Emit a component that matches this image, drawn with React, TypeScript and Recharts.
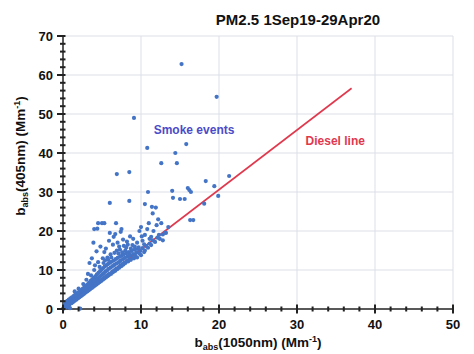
import { ScatterChart, Scatter, XAxis, YAxis, CartesianGrid, ReferenceLine, ReferenceDot } from 'recharts'

const FONT = "'Liberation Sans', Arial, sans-serif"
const DOT = '#4474C6'
const RED = '#E0394E'

const xTicks = [0, 2, 4, 6, 8, 10, 12, 14, 16, 18, 20, 22, 24, 26, 28, 30, 32, 34, 36, 38, 40, 42, 44, 46, 48, 50]
const yTicks = [0, 2, 4, 6, 8, 10, 12, 14, 16, 18, 20, 22, 24, 26, 28, 30, 32, 34, 36, 38, 40, 42, 44, 46, 48, 50, 52, 54, 56, 58, 60, 62, 64, 66, 68, 70]
const xGrid = [10, 20, 30, 40, 50]
const yGrid = [10, 20, 30, 40, 50, 60, 70]

// dense cluster hugging the diesel line
const bandPoints: [number, number][] = [
  [0.05, 0.1], [0.1, 0.4], [0.15, 0.9], [0.2, 0.2], [0.25, 1.3], [0.3, 0.6], [0.35, 1.8], [0.4, 0.5], [0.45, 1.1], [0.5, 0.8],
  [0.55, 2.1], [0.6, 1.2], [0.65, 0.7], [0.7, 1.6], [0.75, 2.4], [0.8, 1.1], [0.85, 1.9], [0.9, 0.2], [0.9, 1.4], [0.95, 2.7], [1.0, 1.6],
  [1.05, 2.2], [1.1, 1.5], [1.15, 3.0], [1.2, 1.9], [1.25, 2.5], [1.3, 1.8], [1.35, 3.3], [1.4, 2.2], [1.45, 2.8], [1.5, 2.1],
  [1.55, 3.6], [1.6, 2.5], [1.65, 3.1], [1.7, 2.4], [1.75, 3.9], [1.8, 2.8], [1.85, 3.4], [1.9, 2.7], [1.95, 4.2], [2.0, 3.1],
  [2.05, 3.7], [2.1, 3.0], [2.15, 4.5], [2.2, 0.1], [2.2, 3.4], [2.25, 4.0], [2.3, 3.3], [2.35, 4.9], [2.4, 3.7], [2.45, 4.3], [2.5, 3.6],
  [2.55, 5.2], [2.6, 4.0], [2.65, 4.6], [2.7, 3.9], [2.75, 5.6], [2.8, 4.3], [2.85, 5.0], [2.9, 4.2], [2.95, 6.0], [3.0, 4.6],
  [3.05, 5.3], [3.1, 4.5], [3.15, 6.3], [3.2, 4.9], [3.25, 5.7], [3.3, 4.8], [3.35, 6.8], [3.4, 5.2], [3.45, 6.1], [3.5, 5.1],
  [3.55, 7.2], [3.6, 5.5], [3.65, 6.4], [3.7, 5.4], [3.75, 7.6], [3.8, 5.8], [3.85, 6.8], [3.9, 5.7], [3.95, 8.0], [4.0, 6.1],
  [4.05, 7.1], [4.1, 6.0], [4.15, 8.4], [4.2, 6.4], [4.25, 7.5], [4.3, 6.3], [4.35, 8.9], [4.4, 6.7], [4.45, 7.8], [4.5, 6.6],
  [4.55, 9.3], [4.6, 7.0], [4.65, 8.2], [4.7, 6.9], [4.75, 9.7], [4.8, 7.3], [4.85, 8.5], [4.9, 7.2], [4.95, 10.1], [5.0, 7.6],
  [5.05, 8.9], [5.1, 7.5], [5.15, 10.5], [5.2, 7.9], [5.25, 9.2], [5.3, 7.8], [5.35, 10.9], [5.4, 8.2], [5.45, 9.6], [5.5, 8.1],
  [5.55, 11.2], [5.6, 8.5], [5.65, 9.9], [5.7, 8.4], [5.75, 11.5], [5.8, 8.8], [5.85, 10.3], [5.9, 8.7], [5.95, 11.8], [6.0, 9.1],
  [6.1, 10.6], [6.15, 9.0], [6.2, 12.1], [6.3, 9.5], [6.35, 11.0], [6.4, 9.4], [6.5, 12.4], [6.55, 9.9], [6.6, 11.3], [6.7, 9.8],
  [6.75, 12.8], [6.8, 10.3], [6.9, 11.7], [6.95, 10.2], [7.0, 13.1],
  [7.1, 10.7], [7.15, 12.0], [7.2, 10.6], [7.3, 13.4], [7.35, 11.1], [7.4, 12.4], [7.5, 11.0], [7.55, 13.7], [7.6, 11.5], [7.7, 12.8],
  [7.75, 11.4], [7.8, 14.0], [7.9, 11.9], [7.95, 13.1],
  [8.0, 11.8], [8.1, 14.3], [8.2, 12.3], [8.3, 13.5], [8.35, 12.2], [8.45, 14.6], [8.5, 12.7], [8.6, 13.8], [8.7, 12.6], [8.8, 14.9],
  [8.9, 13.1], [9.0, 14.1], [9.1, 13.0], [9.2, 15.2],
  [9.3, 13.6], [9.4, 14.5], [9.5, 13.2], [9.6, 15.4], [9.8, 14.2], [9.9, 14.9], [10.0, 13.8], [10.2, 15.6], [10.4, 14.6], [10.5, 15.0],
  [10.7, 16.1], [10.9, 15.7], [11.1, 16.8], [11.3, 16.4], [11.5, 17.6], [11.8, 17.2], [12.1, 18.3], [12.4, 18.0], [12.8, 19.1], [13.1, 19.6],
]

// looser points above the band
const fringePoints: [number, number][] = [
  [1.5, 4.5], [2.0, 5.2], [2.6, 6.4], [3.0, 7.5], [3.2, 9.0], [3.4, 11.8], [3.6, 8.6], [3.7, 13.0], [3.9, 17.0], [4.0, 10.0],
  [4.1, 11.2], [4.3, 14.8], [4.4, 20.6], [4.5, 12.0], [4.7, 10.8], [4.8, 16.0], [5.0, 22.0], [5.1, 13.0], [5.2, 11.8], [5.3, 14.6],
  [5.4, 12.5], [5.5, 15.5], [5.7, 13.2], [5.8, 12.6], [5.9, 17.5], [6.0, 19.5], [6.1, 14.0], [6.2, 13.2], [6.4, 16.5], [6.5, 18.5],
  [6.6, 14.4], [6.7, 19.2], [6.8, 22.0], [6.9, 15.0], [7.0, 17.0], [7.1, 14.2], [7.2, 16.0], [7.3, 15.2], [7.4, 19.8], [7.5, 20.5],
  [7.6, 14.5], [7.7, 17.8], [7.8, 16.2], [8.0, 15.0], [8.1, 15.8], [8.2, 17.3], [8.3, 16.5], [8.5, 14.0], [8.6, 18.6], [8.7, 15.5],
  [8.9, 16.4], [9.0, 18.0], [9.2, 16.0], [9.5, 17.0], [9.7, 15.8], [9.8, 20.0], [10.0, 21.0], [10.1, 18.6], [10.2, 17.5], [10.4, 16.6],
  [10.5, 19.0], [10.8, 20.5], [11.0, 22.0], [11.1, 18.0], [11.3, 18.5], [11.5, 24.5], [11.6, 20.0], [11.9, 26.0], [12.0, 21.5], [12.2, 23.0],
  [12.3, 19.0], [12.6, 22.0], [12.8, 17.6], [13.2, 19.5], [13.5, 21.0], [4.5, 22.0], [5.3, 22.0], [4.0, 20.5],
]

// smoke events far above the line
const smokePoints: [number, number][] = [
  [15.2, 62.8], [19.7, 54.4], [9.1, 49.0], [10.8, 41.3], [14.4, 40.0], [15.8, 42.3], [12.6, 37.4], [14.6, 37.4], [6.9, 34.6], [8.5, 35.1],
  [8.5, 27.7], [6.0, 27.2], [10.9, 30.0], [10.5, 26.9], [11.4, 26.2], [14.0, 30.3], [14.1, 28.5], [15.0, 28.2], [15.6, 28.2], [16.0, 31.0],
  [16.2, 30.5], [16.4, 30.0], [16.3, 22.8], [16.7, 22.8], [18.3, 32.8], [19.4, 31.5], [19.9, 29.0], [21.3, 34.1], [18.1, 27.0],
]

const dieselLine = [{ x: 0, y: 0 }, { x: 37, y: 56.6 }]

const toXY = (pts: [number, number][]) => pts.map(([x, y]) => ({ x, y }))

function XTick(props: any) {
  const x = Number(props.x)
  const y = Number(props.y)
  const v = props.payload.value
  const major = v % 10 === 0
  const h = major ? 4.5 : 2.5
  return (
    <g>
      <rect x={x - 1} y={y - h} width={2} height={h * 2} fill="#222" />
      {major && (
        <text x={x} y={y + 20} textAnchor="middle" fontFamily={FONT} fontWeight="bold" fontSize={13} fill="#111">
          {v}
        </text>
      )}
    </g>
  )
}

function YTick(props: any) {
  const x = Number(props.x)
  const y = Number(props.y)
  const v = props.payload.value
  const major = v % 10 === 0
  const w = major ? 6 : 3
  return (
    <g>
      <rect x={x - w} y={y - 1} width={w + 2.5} height={2} fill="#222" />
      {major && (
        <text x={x - 10} y={y + 5} textAnchor="end" fontFamily={FONT} fontWeight="bold" fontSize={13} fill="#111">
          {v}
        </text>
      )}
    </g>
  )
}

function XLabel({ viewBox }: any) {
  const cx = viewBox.x + viewBox.width / 2
  return (
    <text x={cx} y={viewBox.y + 38} textAnchor="middle" fontFamily={FONT} fontWeight="bold" fontSize={13.5} fill="#111">
      b<tspan fontSize={9} dy={3}>abs</tspan>
      <tspan dy={-3}>(1050nm) (Mm</tspan>
      <tspan fontSize={9} dy={-5}>-1</tspan>
      <tspan dy={5}>)</tspan>
    </text>
  )
}

function YLabel() {
  const cy = 156
  const x = 25
  return (
    <text x={x} y={cy} transform={`rotate(-90, ${x}, ${cy})`} textAnchor="middle" fontFamily={FONT} fontWeight="bold" fontSize={13.5} fill="#111">
      b<tspan fontSize={9} dy={3}>abs</tspan>
      <tspan dy={-3}>(405nm) (Mm</tspan>
      <tspan fontSize={9} dy={-5}>-1</tspan>
      <tspan dy={5}>)</tspan>
    </text>
  )
}

const dotShape = (p: any) => <circle cx={p.cx} cy={p.cy} r={2.1} fill={DOT} />

export default function App() {
  return (
    <div style={{ position: 'absolute', left: 0, top: 0, width: 474, height: 354, background: '#fff' }}>
      <div style={{
        position: 'absolute', left: 200, top: 11, width: 196, textAlign: 'center',
        fontFamily: FONT, fontWeight: 'bold', fontSize: 15, color: '#111',
      }}>
        PM2.5 1Sep19-29Apr20
      </div>
      <ScatterChart width={474} height={354} margin={{ top: 36, right: 21, bottom: 15, left: 23 }}>
        <CartesianGrid stroke="#dcdfe6" strokeWidth={1} verticalValues={xGrid} horizontalValues={yGrid} />
        <XAxis
          type="number" dataKey="x" domain={[0, 50]} ticks={xTicks} interval={0}
          height={30} tickSize={0} tickMargin={0} tick={XTick} tickLine={false}
          axisLine={{ stroke: '#222', strokeWidth: 1.5 }} label={<XLabel />}
        />
        <YAxis
          type="number" dataKey="y" domain={[0, 70]} ticks={yTicks} interval={0}
          width={40} tickSize={0} tickMargin={0} tick={YTick} tickLine={false}
          axisLine={{ stroke: '#222', strokeWidth: 1.5 }} label={<YLabel />}
        />
        <Scatter data={toXY(bandPoints)} shape={dotShape} isAnimationActive={false} />
        <Scatter data={toXY(fringePoints)} shape={dotShape} isAnimationActive={false} />
        <Scatter data={toXY(smokePoints)} shape={dotShape} isAnimationActive={false} />
        <ReferenceLine segment={dieselLine} stroke={RED} strokeWidth={1.6} />
        <ReferenceDot x={16.8} y={45.9} r={0} stroke="none"
          label={{ value: 'Smoke events', fill: '#4B4BC8', fontFamily: FONT, fontWeight: 'bold', fontSize: 12, position: 'center' }} />
        <ReferenceDot x={34.9} y={43.1} r={0} stroke="none"
          label={{ value: 'Diesel line', fill: RED, fontFamily: FONT, fontWeight: 'bold', fontSize: 12, position: 'center' }} />
      </ScatterChart>
    </div>
  )
}
